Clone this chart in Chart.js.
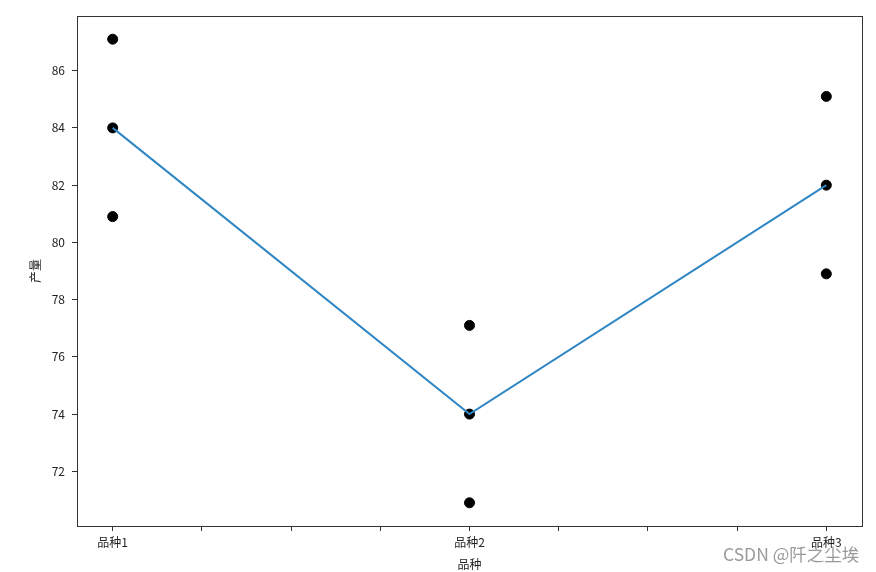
<!DOCTYPE html>
<html>
<head>
<meta charset="utf-8">
<script src="https://cdn.jsdelivr.net/npm/chart.js@4"></script>
<style>
  html, body { margin: 0; padding: 0; background: #fff; }
  #wrap { position: relative; width: 876px; height: 572px; }
  #mark {
    position: absolute; left: 723px; top: 541px;
    font-family: "Noto Sans CJK SC", "Noto Sans", sans-serif;
    font-size: 17.5px; color: #9a9a9a; white-space: nowrap;
  }
</style>
</head>
<body>
<div id="wrap">
  <canvas id="chart" width="876" height="572"></canvas>
  <div id="mark">CSDN @阡之尘埃</div>
</div>
<script>
const categories = ['品种1', '品种2', '品种3'];
const positions = [0, 1, 2];
const highValues = [87.1, 77.1, 85.1];
const midValues = [84.0, 74.0, 82.0];
const lowValues = [80.9, 70.9, 78.9];
const meanValues = [84.0, 74.0, 82.0];
const xTicks = [0, 0.25, 0.5, 0.75, 1, 1.25, 1.5, 1.75, 2];
const yTicks = [72, 74, 76, 78, 80, 82, 84, 86];

const font = { family: '"Noto Sans CJK SC", "DejaVu Sans", sans-serif', size: 12 };

const points = [];
positions.forEach((x, i) => {
  points.push({ x, y: highValues[i] });
  points.push({ x, y: midValues[i] });
  points.push({ x, y: lowValues[i] });
});

const frame = {
  id: 'frame',
  afterDraw(chart) {
    const { ctx, chartArea: a } = chart;
    ctx.save();
    ctx.strokeStyle = '#333';
    ctx.lineWidth = 1;
    ctx.strokeRect(a.left + 0.5, a.top + 0.5, a.right - a.left, a.bottom - a.top);
    ctx.restore();
  },
};

new Chart(document.getElementById('chart'), {
  type: 'scatter',
  data: {
    datasets: [
      {
        type: 'line',
        data: positions.map((x, i) => ({ x, y: meanValues[i] })),
        borderColor: '#2f86c4',
        borderWidth: 2,
        pointRadius: 0,
        fill: false,
        order: 0,
      },
      {
        data: points,
        backgroundColor: '#000',
        borderColor: '#000',
        pointRadius: 5,
        order: 1,
      },
    ],
  },
  options: {
    responsive: false,
    animation: false,
    layout: { padding: { left: 24, right: 14, top: 16, bottom: 0 } },
    plugins: { legend: { display: false }, tooltip: { enabled: false } },
    scales: {
      x: {
        type: 'linear',
        min: -0.1,
        max: 2.1,
        afterBuildTicks: (s) => { s.ticks = xTicks.map((v) => ({ value: v })); },
        afterFit: (s) => { s.height = 46; },
        ticks: {
          font, color: '#222', padding: 4, maxRotation: 0, autoSkip: false,
          callback: (v) => (Number.isInteger(v) ? categories[v] : ''),
        },
        grid: { drawOnChartArea: false, tickLength: 5, color: '#333' },
        border: { color: '#333' },
        title: { display: true, text: '品种', font, color: '#222', padding: { top: 0, bottom: 0 } },
      },
      y: {
        type: 'linear',
        min: 70.09,
        max: 87.91,
        afterBuildTicks: (s) => { s.ticks = yTicks.map((v) => ({ value: v })); },
        afterFit: (s) => { s.width = 53; },
        ticks: { font, color: '#222', padding: 7 },
        grid: { drawOnChartArea: false, tickLength: 5, color: '#333' },
        border: { color: '#333' },
        title: { display: true, text: '产量', font, color: '#222', padding: { top: 4, bottom: 0 } },
      },
    },
  },
  plugins: [frame],
});
</script>
</body>
</html>
